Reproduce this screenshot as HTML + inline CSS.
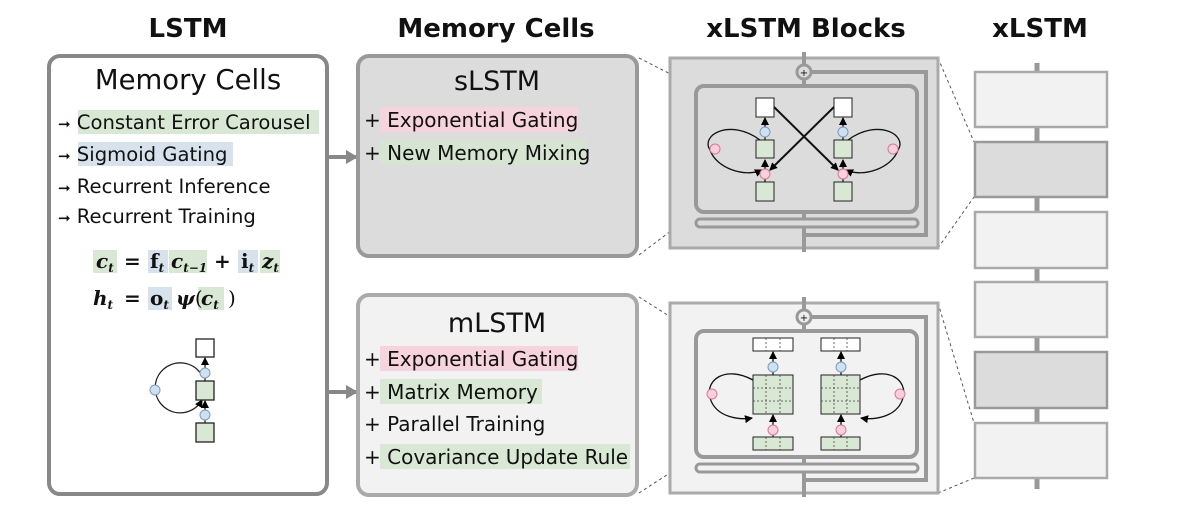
<!DOCTYPE html>
<html><head><meta charset="utf-8"><style>
body{margin:0;background:#fff}
svg{display:block}
text{font-family:"DejaVu Sans","Liberation Sans",sans-serif;fill:#111}
</style></head><body>
<svg width="1200" height="520" viewBox="0 0 1200 520" xmlns="http://www.w3.org/2000/svg">
<defs>
<marker id="ah" markerWidth="8" markerHeight="8" refX="7" refY="4" orient="auto" markerUnits="userSpaceOnUse"><path d="M0,0 L8,4 L0,8 z" fill="#000"/></marker>
<marker id="ga" markerWidth="12" markerHeight="14" refX="11" refY="7" orient="auto" markerUnits="userSpaceOnUse"><path d="M0,0 L12,7 L0,14 z" fill="#888"/></marker>
</defs>
<rect width="1200" height="520" fill="#fff"/>
<g font-weight="bold" font-size="26" text-anchor="middle">
<text x="188" y="37">LSTM</text>
<text x="496" y="37">Memory Cells</text>
<text x="806" y="37">xLSTM Blocks</text>
<text x="1040" y="37">xLSTM</text>
</g>
<rect x="49" y="56" width="278" height="438" rx="11" fill="#fff" stroke="#888" stroke-width="4"/>
<text x="188" y="89" font-size="27.5" text-anchor="middle">Memory Cells</text>
<rect x="78" y="110" width="241" height="24" fill="#d9e8d4"/>
<rect x="78" y="142" width="155" height="24" fill="#d7e2ec"/>
<g font-size="19.6">
<text x="58" y="129"><tspan font-size="15">➞</tspan> Constant Error Carousel</text>
<text x="58" y="161"><tspan font-size="15">➞</tspan> Sigmoid Gating</text>
<text x="58" y="193"><tspan font-size="15">➞</tspan> Recurrent Inference</text>
<text x="58" y="223"><tspan font-size="15">➞</tspan> Recurrent Training</text>
</g>
<rect x="93" y="250" width="24" height="23" fill="#d9e8d4"/>
<rect x="148" y="250" width="20" height="23" fill="#d7e2ec"/>
<rect x="169" y="250" width="38" height="23" fill="#d9e8d4"/>
<rect x="238" y="250" width="20" height="23" fill="#d7e2ec"/>
<rect x="260" y="250" width="20" height="23" fill="#d9e8d4"/>
<rect x="148" y="287" width="24" height="23" fill="#d7e2ec"/>
<rect x="198" y="287" width="26" height="23" fill="#d9e8d4"/>
<g font-family="DejaVu Serif,serif" font-size="20" font-weight="bold" font-style="italic">
<text x="96" y="268" style="font-family:'DejaVu Serif',serif">c<tspan font-size="12" dy="4">t</tspan></text>
<text x="124" y="268" font-style="normal" style="font-family:'DejaVu Serif',serif">=</text>
<text x="150" y="268" font-style="normal" style="font-family:'DejaVu Serif',serif">f<tspan font-size="12" dy="4" font-style="italic">t</tspan></text>
<text x="171" y="268" style="font-family:'DejaVu Serif',serif">c<tspan font-size="12" dy="4">t−1</tspan></text>
<text x="214" y="268" font-style="normal" style="font-family:'DejaVu Serif',serif">+</text>
<text x="241" y="268" font-style="normal" style="font-family:'DejaVu Serif',serif">i<tspan font-size="12" dy="4" font-style="italic">t</tspan></text>
<text x="262" y="268" style="font-family:'DejaVu Serif',serif">z<tspan font-size="12" dy="4">t</tspan></text>
<text x="93" y="305" style="font-family:'DejaVu Serif',serif">h<tspan font-size="12" dy="4">t</tspan></text>
<text x="124" y="305" font-style="normal" style="font-family:'DejaVu Serif',serif">=</text>
<text x="150" y="305" font-style="normal" style="font-family:'DejaVu Serif',serif">o<tspan font-size="12" dy="4" font-style="italic">t</tspan></text>
<text x="176" y="305" style="font-family:'DejaVu Serif',serif">ψ<tspan font-style="normal" font-weight="normal">(</tspan></text>
<text x="201" y="305" style="font-family:'DejaVu Serif',serif">c<tspan font-size="12" dy="4">t</tspan></text>
<text x="228" y="305" font-style="normal" font-weight="normal" style="font-family:'DejaVu Serif',serif">)</text>
</g>
<g stroke="#222" stroke-width="1.3">
<path d="M201,374 A25,25 0 1 0 202,400" fill="none" marker-end="url(#ah)"/>
<rect x="196" y="339" width="18" height="18" fill="#fff"/>
<rect x="196" y="381" width="18" height="19" fill="#d9e8d4"/>
<rect x="196" y="423" width="18" height="19" fill="#d9e8d4"/>
<line x1="205" y1="381" x2="205" y2="358" marker-end="url(#ah)"/>
<line x1="205" y1="423" x2="205" y2="401" marker-end="url(#ah)"/>
</g>
<g stroke="#7a9cc0" stroke-width="1" fill="#cfe0f0">
<circle cx="205" cy="373" r="5"/><circle cx="205" cy="415" r="5"/><circle cx="155" cy="390" r="5"/>
</g>
<line x1="327" y1="157" x2="357" y2="157" stroke="#888" stroke-width="4" marker-end="url(#ga)"/>
<line x1="327" y1="392" x2="357" y2="392" stroke="#888" stroke-width="4" marker-end="url(#ga)"/>
<rect x="358" y="56" width="279" height="200" rx="11" fill="#dcdcdc" stroke="#999" stroke-width="4"/>
<text x="497" y="90" font-size="27" text-anchor="middle">sLSTM</text>
<rect x="380" y="107" width="198" height="25" fill="#f6d3dd"/>
<rect x="380" y="140" width="206" height="25" fill="#d6e4d2"/>
<g font-size="20"><text x="364" y="127">+ Exponential Gating</text><text x="364" y="160">+ New Memory Mixing</text></g>
<rect x="358" y="295" width="279" height="200" rx="11" fill="#f2f2f2" stroke="#aaa" stroke-width="4"/>
<text x="497" y="332" font-size="27" text-anchor="middle">mLSTM</text>
<rect x="380" y="346" width="198" height="25" fill="#f6d3dd"/>
<rect x="380" y="379" width="162" height="25" fill="#d9e8d4"/>
<rect x="380" y="444" width="250" height="25" fill="#d9e8d4"/>
<g font-size="20"><text x="364" y="366">+ Exponential Gating</text><text x="364" y="399">+ Matrix Memory</text><text x="364" y="431">+ Parallel Training</text><text x="364" y="464">+ Covariance Update Rule</text></g>
<g stroke="#555" stroke-width="1" stroke-dasharray="3,3" fill="none">
<line x1="639" y1="58" x2="696" y2="87"/><line x1="639" y1="255" x2="696" y2="212"/>
<line x1="639" y1="297" x2="696" y2="333"/><line x1="639" y1="493" x2="696" y2="456"/>
<line x1="938" y1="58" x2="974" y2="142"/><line x1="938" y1="248" x2="974" y2="197"/>
<line x1="938" y1="303" x2="974" y2="423"/><line x1="938" y1="493" x2="974" y2="478"/>
</g>
<g>
<rect x="670" y="58" width="268" height="190" fill="#dcdcdc" stroke="#aaa" stroke-width="3"/>
<line x1="804" y1="52" x2="804" y2="252" stroke="#999" stroke-width="4"/>
<path d="M811,72 H926 V235 H804" fill="none" stroke="#999" stroke-width="4"/>
<rect x="696" y="86" width="221" height="126" rx="8" fill="#dcdcdc" stroke="#999" stroke-width="4"/>
<rect x="696" y="219" width="222" height="8" rx="4" fill="#dcdcdc" stroke="#999" stroke-width="3"/>
<circle cx="804" cy="72" r="7" fill="#ddd" stroke="#999" stroke-width="3"/>
<text x="804" y="76" font-size="10" text-anchor="middle" fill="#999">+</text>
<g stroke="#111" stroke-width="1.3" fill="none">
<path d="M760,140 C730,118 700,135 710,150 C716,168 745,178 762,170" marker-end="url(#ah)"/>
<path d="M848,140 C878,118 908,135 898,150 C892,168 863,178 846,170" marker-end="url(#ah)"/>
<line x1="765" y1="140" x2="765" y2="118" marker-end="url(#ah)"/>
<line x1="843" y1="140" x2="843" y2="118" marker-end="url(#ah)"/>
<line x1="765" y1="182" x2="765" y2="160" marker-end="url(#ah)"/>
<line x1="843" y1="182" x2="843" y2="160" marker-end="url(#ah)"/>
<line x1="774" y1="107" x2="838" y2="170" stroke-width="2" marker-end="url(#ah)"/>
<line x1="834" y1="107" x2="770" y2="170" stroke-width="2" marker-end="url(#ah)"/>
</g>
<g stroke="#222" stroke-width="1">
<rect x="756" y="98" width="18" height="19" fill="#fff"/><rect x="834" y="98" width="18" height="19" fill="#fff"/>
<rect x="756" y="140" width="18" height="18" fill="#d9e8d4"/><rect x="834" y="140" width="18" height="18" fill="#d9e8d4"/>
<rect x="756" y="182" width="18" height="19" fill="#d9e8d4"/><rect x="834" y="182" width="18" height="19" fill="#d9e8d4"/>
</g>
<g stroke-width="1">
<circle cx="765" cy="132" r="5" fill="#cfe0f0" stroke="#7a9cc0"/><circle cx="843" cy="132" r="5" fill="#cfe0f0" stroke="#7a9cc0"/>
<circle cx="765" cy="174" r="5" fill="#f8d0dc" stroke="#d87898"/><circle cx="843" cy="174" r="5" fill="#f8d0dc" stroke="#d87898"/>
<circle cx="715" cy="149" r="5" fill="#f8d0dc" stroke="#d87898"/><circle cx="893" cy="149" r="5" fill="#f8d0dc" stroke="#d87898"/>
</g>
</g>
<g>
<rect x="670" y="303" width="268" height="190" fill="#f2f2f2" stroke="#aaa" stroke-width="3"/>
<line x1="804" y1="297" x2="804" y2="497" stroke="#999" stroke-width="4"/>
<path d="M811,317 H926 V480 H804" fill="none" stroke="#999" stroke-width="4"/>
<rect x="696" y="331" width="221" height="126" rx="8" fill="#f2f2f2" stroke="#999" stroke-width="4"/>
<rect x="696" y="464" width="222" height="8" rx="4" fill="#f2f2f2" stroke="#999" stroke-width="3"/>
<circle cx="804" cy="317" r="7" fill="#eee" stroke="#999" stroke-width="3"/>
<text x="804" y="321" font-size="10" text-anchor="middle" fill="#999">+</text>
<g stroke="#111" stroke-width="1.3" fill="none">
<path d="M753,380 C725,365 705,380 710,398 C716,418 740,420 752,418" marker-end="url(#ah)"/>
<path d="M860,380 C888,365 908,380 903,398 C897,418 873,420 861,418" marker-end="url(#ah)"/>
<line x1="773" y1="375" x2="773" y2="352" marker-end="url(#ah)"/>
<line x1="841" y1="375" x2="841" y2="352" marker-end="url(#ah)"/>
<line x1="773" y1="437" x2="773" y2="415" marker-end="url(#ah)"/>
<line x1="841" y1="437" x2="841" y2="415" marker-end="url(#ah)"/>
</g>
<g stroke="#222" stroke-width="1">
<rect x="753" y="338" width="40" height="13" fill="#fff"/><rect x="821" y="338" width="39" height="13" fill="#fff"/>
<rect x="753" y="375" width="40" height="39" fill="#d9e8d4"/><rect x="821" y="375" width="39" height="39" fill="#d9e8d4"/>
<rect x="753" y="437" width="40" height="13" fill="#d9e8d4"/><rect x="821" y="437" width="39" height="13" fill="#d9e8d4"/>
</g>
<g stroke="#444" stroke-width="0.8" stroke-dasharray="2,2">
<path d="M766,338V351M780,338V351M834,338V351M847,338V351M766,437V450M780,437V450M834,437V450M847,437V450"/>
<path d="M766,375V414M780,375V414M753,388H793M753,401H793M834,375V414M847,375V414M821,388H860M821,401H860"/>
</g>
<g stroke-width="1">
<circle cx="773" cy="367" r="5" fill="#cfe0f0" stroke="#7a9cc0"/><circle cx="841" cy="367" r="5" fill="#cfe0f0" stroke="#7a9cc0"/>
<circle cx="773" cy="430" r="5" fill="#f8d0dc" stroke="#d87898"/><circle cx="841" cy="430" r="5" fill="#f8d0dc" stroke="#d87898"/>
<circle cx="712" cy="394" r="5" fill="#f8d0dc" stroke="#d87898"/><circle cx="900" cy="394" r="5" fill="#f8d0dc" stroke="#d87898"/>
</g>
</g>
<line x1="1037" y1="63" x2="1037" y2="489" stroke="#999" stroke-width="5"/>
<g stroke-width="2.5">
<rect x="975" y="72" width="132" height="55" fill="#f2f2f2" stroke="#aaa"/>
<rect x="975" y="142" width="132" height="55" fill="#dcdcdc" stroke="#999"/>
<rect x="975" y="212" width="132" height="56" fill="#f2f2f2" stroke="#aaa"/>
<rect x="975" y="282" width="132" height="55" fill="#f2f2f2" stroke="#aaa"/>
<rect x="975" y="352" width="132" height="56" fill="#dcdcdc" stroke="#999"/>
<rect x="975" y="423" width="132" height="55" fill="#f2f2f2" stroke="#aaa"/>
</g>
</svg>
</body></html>
